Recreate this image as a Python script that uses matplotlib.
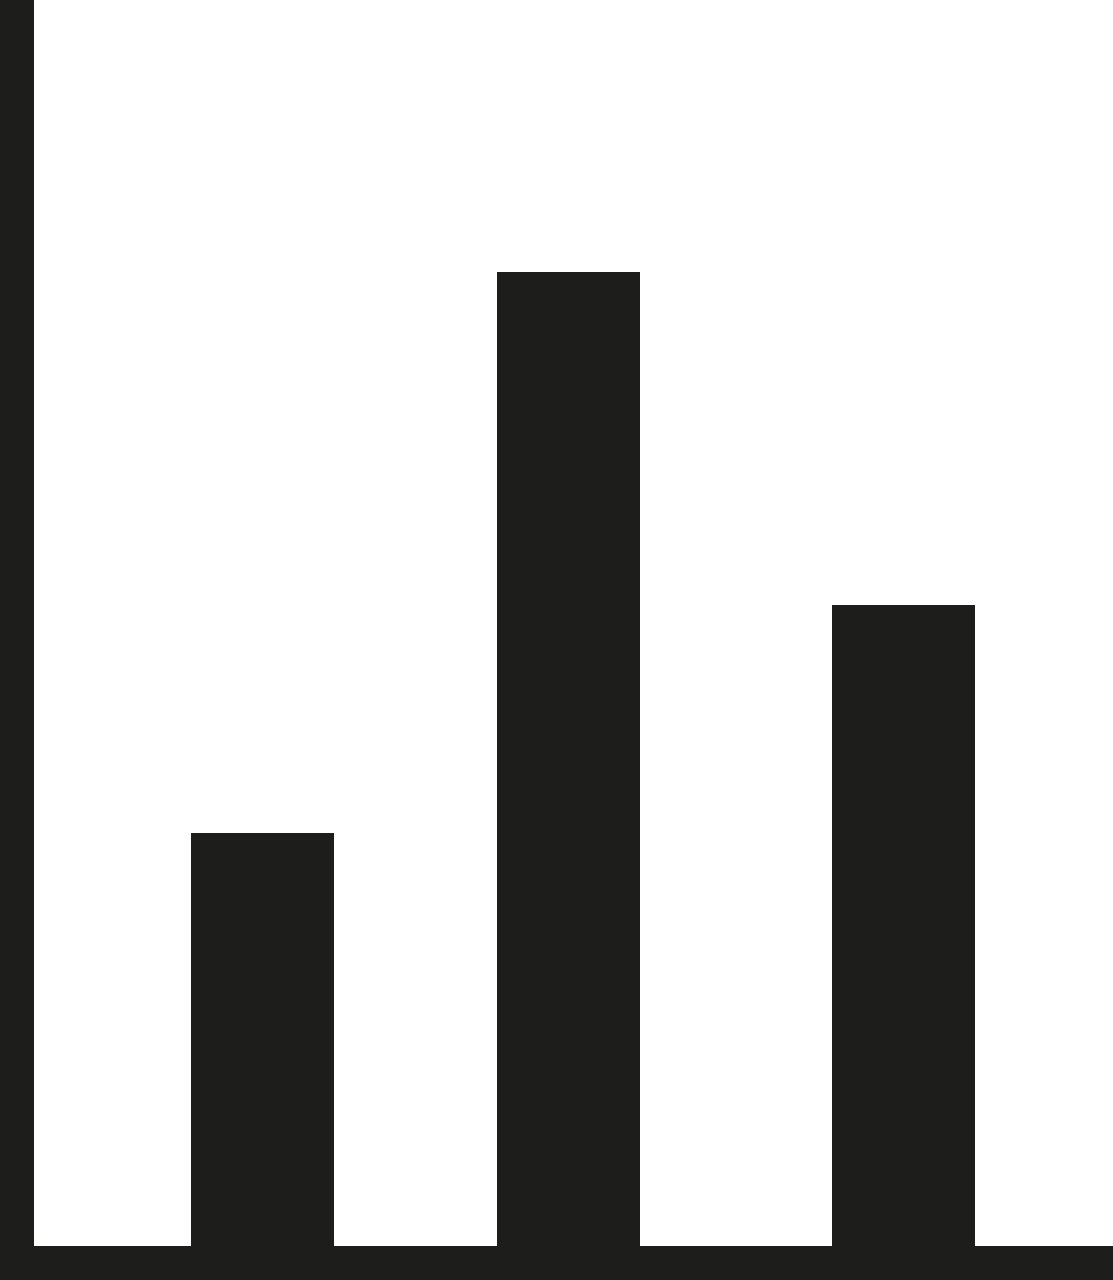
import matplotlib
matplotlib.use("Agg")
import matplotlib.pyplot as plt

# Data
categories = ["A", "B", "C"]
positions = [245.5, 551.5, 886.5]
values = [430, 991, 658]

color = "#1d1d1b"
W, H, dpi = 1113, 1280, 100
fig = plt.figure(figsize=(W / dpi, H / dpi), dpi=dpi)
fig.patch.set_facecolor("white")

line_px = 34
half = line_px / 2
ax = fig.add_axes([half / W, half / H, 1 - half / W, 1 - half / H])
ax.set_xlim(0, W - half)
ax.set_ylim(0, H - half)

ax.bar(positions, values, width=143, color=color, linewidth=0)

for s in ("top", "right"):
    ax.spines[s].set_visible(False)
for s in ("left", "bottom"):
    ax.spines[s].set_linewidth(line_px * 72 / dpi)
    ax.spines[s].set_color(color)
    ax.spines[s].set_capstyle("projecting")
ax.set_xticks([])
ax.set_yticks([])
ax.set_facecolor("white")

fig.savefig("out.png", dpi=dpi, facecolor="white")
